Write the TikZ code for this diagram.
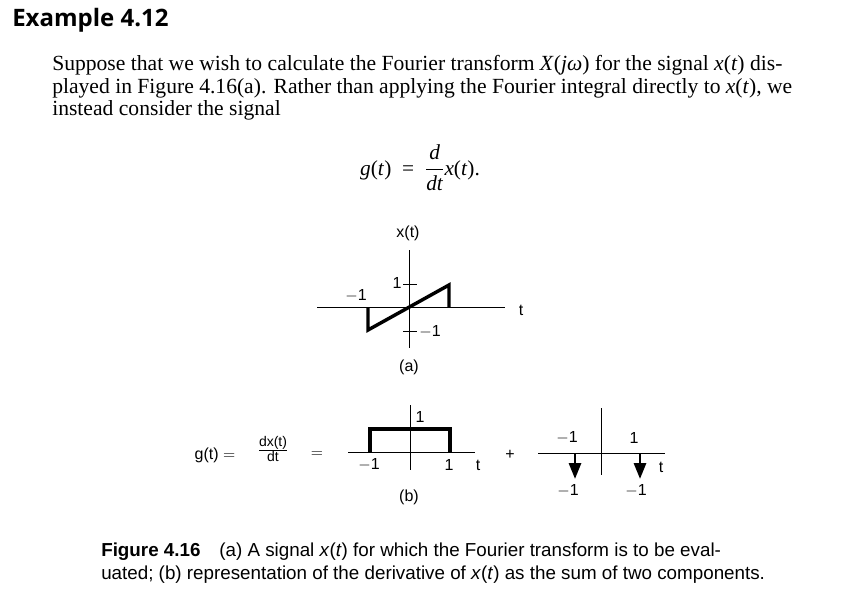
\documentclass[tikz,border=0pt]{standalone}
\usepackage{amsmath}
\usepackage{fontspec}
\setmainfont{Liberation Serif}
\setsansfont{Liberation Sans}
\newfontfamily\titlefont{Open Sans}
\usetikzlibrary{arrows.meta}
\newcommand{\smallsf}[1]{\text{\sffamily\fontsize{10.5}{12}\selectfont #1}}
\begin{document}
\begin{tikzpicture}[x=0.75pt,y=-0.75pt,
  lab/.style={font=\sffamily\fontsize{12}{14}\selectfont,inner sep=1pt},
  ax/.style={line width=0.6pt},
  sig/.style={line width=2.6pt},
  txt/.style={font=\fontsize{16.2}{18}\selectfont,anchor=west,inner sep=0pt},
  captxt/.style={font=\sffamily\fontsize{14.1}{16}\selectfont,anchor=west,inner sep=0pt}]
\useasboundingbox (0,0) rectangle (855,608);
\node[anchor=west,inner sep=0pt,font=\titlefont\bfseries\fontsize{18}{20}\selectfont] (title) at (12,20) {Example 4.12};
\node[txt] (p1) at (52,65) {Suppose that we wish to calculate the Fourier transform \textit{X}(\textit{jω}) for the signal \textit{x}(\textit{t}) dis-};
\node[txt] (p2) at (52,88) {played in Figure 4.16(a). Rather than applying the Fourier integral directly to \textit{x}(\textit{t}), we};
\node[txt] (p3) at (52,110) {instead consider the signal};
\node[font=\fontsize{16}{18}\selectfont] (eq) at (420,168) {\textit{g}(\textit{t})\ \ =\ \ $\dfrac{\textit{d}}{\textit{dt}}$\textit{x}(\textit{t}).};
% (a)
\draw[ax] (317,307) -- (505,307);
\draw[ax] (409,250) -- (409,348);
\draw[ax] (403,284) -- (417,284);
\draw[ax] (403,331) -- (417,331);
\draw[sig] (368,307) -- (368,330) -- (449,285) -- (449,307);
\node[lab] (xt) at (408,233) {x(t)};
\node[lab] (ta) at (521,310) {t};
\node[lab] (a1) at (397,283) {1};
\node[lab] (am1) at (430,332) {$-$1};
\node[lab] (am1b) at (356,296) {$-$1};
\node[lab] (aa) at (409,367) {(a)};
% (b)
\node[lab] (gt) at (215,455) {g(t) $=$};
\node[lab] (dx) at (273,449) {$\frac{\smallsf{dx(t)}}{\smallsf{dt}}$};
\node[lab] (eq2) at (317,455) {$=$};
\draw[ax] (348,452) -- (475,452);
\draw[ax] (410,405) -- (410,470);
\draw[sig] (370,452) -- (370,429) -- (450,429) -- (450,452);
\node[lab] (b1) at (420,417) {1};
\node[lab] (bm1) at (369,465) {$-$1};
\node[lab] (bp1) at (449,465) {1};
\node[lab] (bt) at (478,465) {t};
\node[lab] (plus) at (510,455) {+};
\draw[ax] (538,453) -- (665,453);
\draw[ax] (601,408) -- (601,475);
\coordinate (s1) at (575,453); \coordinate (e1) at (575,479);
\coordinate (s2) at (640,453); \coordinate (e2) at (640,479);
\draw[line width=2.2pt,-{Triangle[length=12pt,width=9pt]}] (s1) -- (e1);
\draw[line width=2.2pt,-{Triangle[length=12pt,width=9pt]}] (s2) -- (e2);
\node[lab] (c1) at (567,438) {$-$1};
\node[lab] (c2) at (634,438) {1};
\node[lab] (c3) at (568,491) {$-$1};
\node[lab] (c4) at (636,491) {$-$1};
\node[lab] (ct) at (661,467) {t};
\node[lab] (bb) at (409,497) {(b)};
% caption
\node[captxt] (cap1) at (101,552) {\textbf{Figure 4.16}\quad (a) A signal \textit{x}(\textit{t}) for which the Fourier transform is to be eval-};
\node[captxt] (cap2) at (101,575) {uated; (b) representation of the derivative of \textit{x}(\textit{t}) as the sum of two components.};
\end{tikzpicture}
\end{document}
